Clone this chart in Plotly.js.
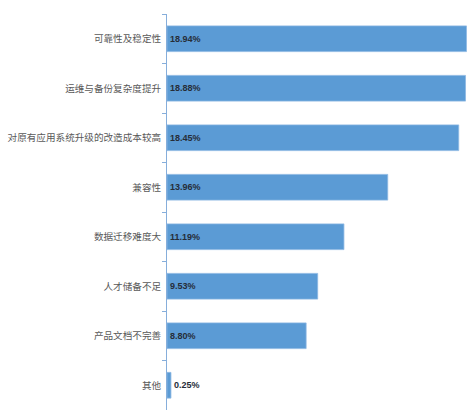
<!DOCTYPE html>
<html>
<head>
<meta charset="utf-8">
<script src="https://cdn.plot.ly/plotly-3.0.1.min.js"></script>
<style>
  html, body { margin: 0; padding: 0; background: #fff; }
  #chart { width: 474px; height: 414px; }
</style>
</head>
<body>
<div id="chart"></div>
<script>
var categories = ['可靠性及稳定性', '运维与备份复杂度提升', '对原有应用系统升级的改造成本较高',
                  '兼容性', '数据迁移难度大', '人才储备不足', '产品文档不完善', '其他'];
var shares = [18.94, 18.88, 18.45, 13.96, 11.19, 9.53, 8.80, 0.25];

var labels = shares.map(function (v) { return v.toFixed(2) + '%'; });
var positions = shares.map(function (v) { return v < 2 ? 'outside' : 'inside'; });

var trace = {
    type: 'bar',
    orientation: 'h',
    x: shares,
    y: categories,
    text: labels,
    textposition: positions,
    insidetextanchor: 'start',
    textangle: 0,
    cliponaxis: false,
    textfont: { family: 'Liberation Sans, Arial, sans-serif', size: 9, color: '#262d38', weight: 'bold' },
    width: 0.52,
    marker: {
        color: '#5b9bd5',
        line: { color: '#8db8e2', width: 0.8 }
    },
    hoverinfo: 'y+text'
};

var layout = {
    width: 474,
    height: 414,
    margin: { l: 167, r: 5, t: 14, b: 4 },
    paper_bgcolor: '#ffffff',
    plot_bgcolor: '#ffffff',
    showlegend: false,
    font: { family: 'Noto Sans CJK SC, sans-serif' },
    xaxis: {
        range: [0, 19.1],
        visible: false,
        showgrid: false,
        zeroline: false,
        fixedrange: true
    },
    yaxis: {
        autorange: 'reversed',
        showline: true,
        linecolor: '#86aedb',
        linewidth: 1,
        ticks: 'outside',
        tickson: 'boundaries',
        ticklen: 4,
        tickcolor: '#86aedb',
        ticklabelstandoff: 3,
        tickfont: { family: 'Noto Sans CJK SC, sans-serif', size: 9.6, color: '#595959' },
        showgrid: false,
        zeroline: false,
        fixedrange: true
    }
};

Plotly.newPlot('chart', [trace], layout, { displayModeBar: false, staticPlot: true });
</script>
</body>
</html>
